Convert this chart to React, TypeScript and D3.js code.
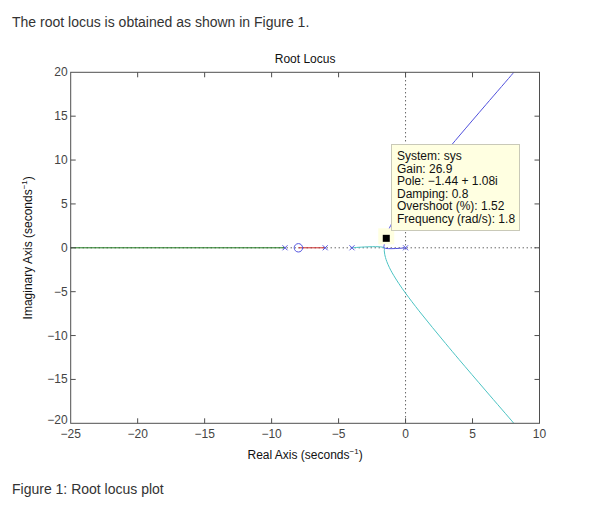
import React from "react";
import * as d3 from "d3";

// Open-loop poles and zeros on the real axis
const poles = [0, -4, -6, -9];
const zeros = [-8];

// Branch traces (real part, imaginary part)
const greenRe = [-9, -25];
const greenIm = [0, 0];
const redRe = [-6, -8];
const redIm = [0, 0];
const blueRe = [0, -1.6, -1.59, -1.55, -1.5, -1.4, -1.2, -1.0, -0.5, 0, 1, 2, 3, 4, 6, 8, 8.08];
const blueIm = [0, 0, 0.35, 0.79, 1.1, 1.57, 2.27, 2.85, 4.08, 5.17, 7.18, 9.07, 10.92, 12.74, 16.31, 19.85, 20];
const cyanRe = [-4, -1.6, -1.59, -1.55, -1.5, -1.4, -1.2, -1.0, -0.5, 0, 1, 2, 3, 4, 6, 8, 8.08];
const cyanIm = [0, 0, -0.35, -0.79, -1.1, -1.57, -2.27, -2.85, -4.08, -5.17, -7.18, -9.07, -10.92, -12.74, -16.31, -19.85, -20];

// Axis ticks
const xTicks = [-25, -20, -15, -10, -5, 0, 5, 10];
const yTicks = [-20, -15, -10, -5, 0, 5, 10, 15, 20];

// Selected point on the locus
const tipRe = -1.44;
const tipIm = 1.08;
const tipLines = [
  "System: sys",
  "Gain: 26.9",
  "Pole: \u22121.44 + 1.08i",
  "Damping: 0.8",
  "Overshoot (%): 1.52",
  "Frequency (rad/s): 1.8",
];

const fmt = (v: number) => (v < 0 ? "\u2212" + Math.abs(v) : String(v));

export default function App() {
  const left = 70.7, right = 539.5, top = 72.3, bottom = 423.3;
  const x = d3.scaleLinear().domain([-25, 10]).range([left, right]);
  const y = d3.scaleLinear().domain([-20, 20]).range([bottom, top]);

  const line = d3
    .line<[number, number]>()
    .x((d) => x(d[0]))
    .y((d) => y(d[1]))
    .curve(d3.curveCatmullRom.alpha(0.5));
  const path = (re: number[], im: number[]) =>
    line(re.map((r, i) => [r, im[i]] as [number, number])) || "";

  const axisColor = "#4f4f4f";
  const tickLen = 5;
  const font = "Arial, 'Liberation Sans', Helvetica, sans-serif";
  const markColor = "#5555e0";
  const tx = x(tipRe), ty = y(tipIm);

  return (
    <svg
      width={614}
      height={518}
      style={{ position: "absolute", left: 0, top: 0, background: "#fff" }}
      fontFamily={font}
    >
      <text x={12} y={27} fontSize={14} fill="#333">
        The root locus is obtained as shown in Figure 1.
      </text>
      <text x={12} y={494} fontSize={14} fill="#333">
        Figure 1: Root locus plot
      </text>

      <defs>
        <clipPath id="plotArea">
          <rect x={left} y={top} width={right - left} height={bottom - top} />
        </clipPath>
      </defs>

      {/* dotted reference axes */}
      <line x1={left} x2={right} y1={y(0)} y2={y(0)} stroke="#222" strokeDasharray="1,3" />
      <line x1={x(0)} x2={x(0)} y1={top} y2={bottom} stroke="#222" strokeDasharray="1,3" />

      <g clipPath="url(#plotArea)" fill="none" strokeWidth={1}>
        <path d={path(greenRe, greenIm)} stroke="#1f7a1f" />
        <path d={path(redRe, redIm)} stroke="#cc2a2a" />
        <path d={path(cyanRe, cyanIm)} stroke="#4cc3c3" />
        <path d={path(blueRe, blueIm)} stroke="#5050dc" />
      </g>

      {poles.map((p) => (
        <g key={"p" + p} stroke={markColor} strokeWidth={1}>
          <line x1={x(p) - 2.5} x2={x(p) + 2.5} y1={y(0) - 2.5} y2={y(0) + 2.5} />
          <line x1={x(p) - 2.5} x2={x(p) + 2.5} y1={y(0) + 2.5} y2={y(0) - 2.5} />
        </g>
      ))}
      {zeros.map((z) => (
        <circle key={"z" + z} cx={x(z)} cy={y(0)} r={4.2} fill="none" stroke={markColor} strokeWidth={1} />
      ))}

      {/* frame */}
      <rect x={left} y={top} width={right - left} height={bottom - top} fill="none" stroke={axisColor} strokeWidth={1} />
      {xTicks.slice(1, -1).map((t) => (
        <g key={"xt" + t} stroke={axisColor}>
          <line x1={x(t)} x2={x(t)} y1={bottom} y2={bottom - tickLen} />
          <line x1={x(t)} x2={x(t)} y1={top} y2={top + tickLen} />
        </g>
      ))}
      {yTicks.slice(1, -1).map((t) => (
        <g key={"yt" + t} stroke={axisColor}>
          <line x1={left} x2={left + tickLen} y1={y(t)} y2={y(t)} />
          <line x1={right} x2={right - tickLen} y1={y(t)} y2={y(t)} />
        </g>
      ))}
      {xTicks.map((t) => (
        <text key={"xl" + t} x={x(t)} y={bottom + 15} fontSize={12} fill="#444" textAnchor="middle">
          {fmt(t)}
        </text>
      ))}
      {yTicks.map((t) => (
        <text
          key={"yl" + t}
          x={left - 3}
          y={y(t) + (t === -20 ? 1 : 4)}
          fontSize={12}
          fill="#444"
          textAnchor="end"
        >
          {fmt(t)}
        </text>
      ))}

      <text x={(left + right) / 2} y={63} fontSize={12} fill="#111" textAnchor="middle">
        Root Locus
      </text>
      <text x={(left + right) / 2} y={459} fontSize={12} fill="#111" textAnchor="middle">
        Real Axis (seconds
        <tspan dy={-5} fontSize={8}>{"\u22121"}</tspan>
        <tspan dy={5}>)</tspan>
      </text>
      <text
        transform={`translate(32, ${(top + bottom) / 2}) rotate(-90)`}
        fontSize={12}
        fill="#111"
        textAnchor="middle"
      >
        Imaginary Axis (seconds
        <tspan dy={-5} fontSize={8}>{"\u22121"}</tspan>
        <tspan dy={5}>)</tspan>
      </text>

      {/* data tip */}
      <rect x={tx - 8} y={ty - 10} width={16} height={16} fill="#ffffe1" />
      <rect x={tx - 3.5} y={ty - 3.5} width={7} height={7} fill="#000" />
      <rect x={391.5} y={144.5} width={128} height={86} fill="#ffffe1" stroke="#c9c9b8" />
      {tipLines.map((s, i) => (
        <text key={s} x={397} y={160 + i * 12.6} fontSize={12} fill="#111">
          {s}
        </text>
      ))}
    </svg>
  );
}
